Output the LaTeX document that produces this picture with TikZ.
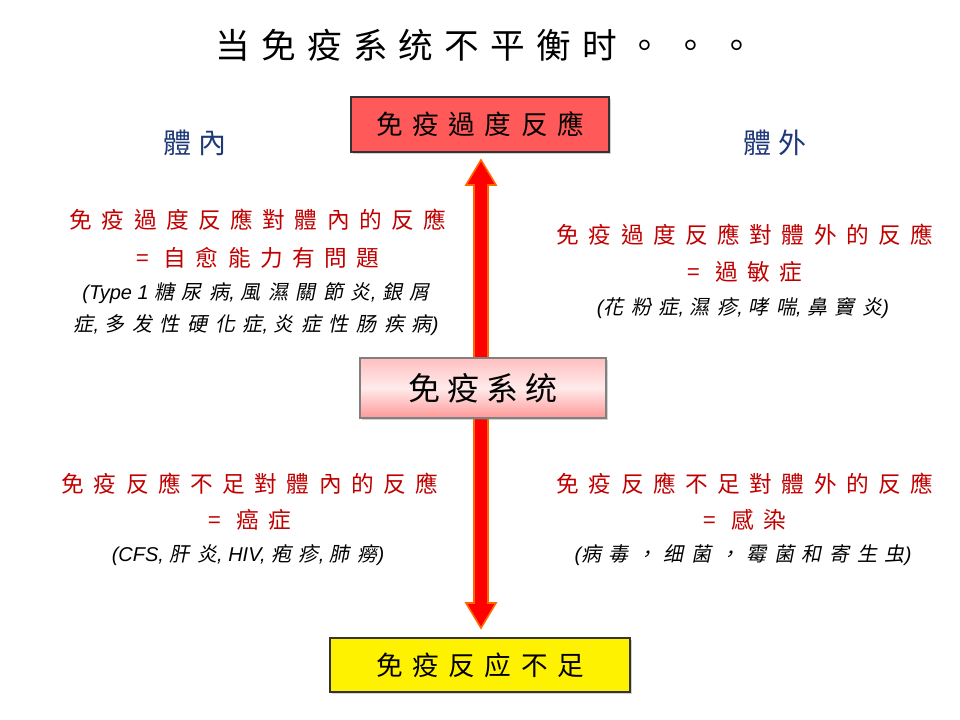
\documentclass[tikz,border=0pt]{standalone}
\usepackage{fontspec}
\newfontfamily\cjk{Noto Sans CJK TC}
\newfontfamily\cjkr[LetterSpace=42]{Noto Sans CJK TC}
\newfontfamily\cjkt[LetterSpace=32]{Noto Sans CJK TC}
\newfontfamily\cjkb[LetterSpace=36]{Noto Sans CJK TC}
\newfontfamily\cjkh[LetterSpace=22]{Noto Sans CJK TC}
\newfontfamily\cjkit[FakeSlant=0.2,LetterSpace=38]{Noto Sans CJK TC}
\newfontfamily\latit{Liberation Sans Italic}
\newcommand{\Lt}[1]{{\latit #1}}
\usetikzlibrary{shadows}
\definecolor{dred}{RGB}{192,0,0}
\definecolor{dblue}{RGB}{31,56,120}
\tikzset{
  rt/.style={text=dred,font=\cjkr\fontsize{17}{18}\selectfont,anchor=center},
  pt/.style={text=black,font=\cjkit\fontsize{15}{16}\selectfont,anchor=center},
  bx/.style={draw=black!80,line width=0.8pt,drop shadow={opacity=0.35,shadow xshift=1.5pt,shadow yshift=-1.5pt}}
}
\begin{document}
\begin{tikzpicture}[x=0.75pt,y=-0.75pt]
\useasboundingbox (0,0) rectangle (960,720);
\fill[white] (0,0) rectangle (960,720);
\node[font=\cjkt\fontsize{26}{28}\selectfont] (title) at (485,45) {当免疫系统不平衡时。。。};
% arrow
\filldraw[fill=red,draw=orange!80!red,line width=1.2pt]
 (481,160) -- (496,185) -- (488,185) -- (488,603) -- (496,603) -- (481,628) -- (466,603) -- (474,603) -- (474,185) -- (466,185) -- cycle;
\node[bx,fill=red!65!white,minimum width=258*0.75pt,minimum height=55*0.75pt,font=\cjkb\fontsize{20}{21}\selectfont] (top) at (480,124.5) {免疫過度反應};
\node[bx,draw=black!50,top color=red!25!white,bottom color=red!40!white,middle color=red!8!white,minimum width=246*0.75pt,minimum height=60*0.75pt,font=\cjkh\fontsize{24}{26}\selectfont] (mid) at (483,388) {免疫系统};
\node[bx,fill=yellow,minimum width=300*0.75pt,minimum height=54*0.75pt,font=\cjkb\fontsize{20}{21}\selectfont] (bot) at (480,665) {免疫反应不足};
\node[text=dblue,font=\cjkh\fontsize{21}{22}\selectfont] (in) at (195,143) {體內};
\node[text=dblue,font=\cjkh\fontsize{21}{22}\selectfont] (out) at (775,143) {體外};
\node[rt] (l1) at (258,220) {免疫過度反應對體內的反應};
\node[rt] (l2) at (258,258) {= 自愈能力有問題};
\node[pt] (l3) at (256,293) {\Lt{(Type 1 }糖尿病\Lt{, }風濕關節炎\Lt{, }銀屑};
\node[pt] (l4) at (256,325) {症\Lt{, }多发性硬化症\Lt{, }炎症性肠疾病\Lt{)}};
\node[rt] (r1) at (745,235) {免疫過度反應對體外的反應};
\node[rt] (r2) at (745,272) {= 過敏症};
\node[pt] (r3) at (743,308) {\Lt{(}花粉症\Lt{, }濕疹\Lt{, }哮喘\Lt{, }鼻竇炎\Lt{)}};
\node[rt] (l5) at (250,484) {免疫反應不足對體內的反應};
\node[rt] (l6) at (250,520) {= 癌症};
\node[pt] (l7) at (248,555) {\Lt{(CFS, }肝炎\Lt{, HIV, }疱疹\Lt{, }肺癆\Lt{)}};
\node[rt] (r5) at (745,484) {免疫反應不足對體外的反應};
\node[rt] (r6) at (745,520) {= 感染};
\node[pt] (r7) at (743,555) {\Lt{(}病毒，细菌，霉菌和寄生虫\Lt{)}};
\end{tikzpicture}
\end{document}
